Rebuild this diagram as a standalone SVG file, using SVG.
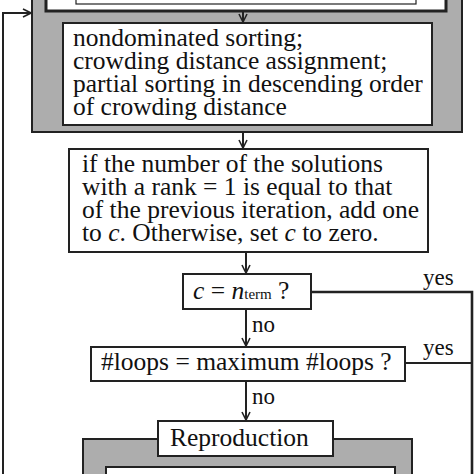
<svg xmlns="http://www.w3.org/2000/svg" width="474" height="474" viewBox="0 0 474 474">
<style>
text{font-family:'Liberation Serif','Times New Roman',Tinos,'DejaVu Serif',serif;fill:#111}
.t{font-size:25.5px}
.lbl{font-size:23px}
.g{fill:#adadad;stroke:#222;stroke-width:2}
.w{fill:#fff;stroke:#222;stroke-width:2}
.ln{fill:none;stroke:#222;stroke-width:2}
.thk{fill:none;stroke:#222;stroke-width:2.6}
</style>
<defs>
<marker id="ah" viewBox="0 0 10 10" refX="9" refY="5" markerWidth="10" markerHeight="10" markerUnits="userSpaceOnUse" orient="auto">
<path d="M1,1 L9,5 L1,9" fill="none" stroke="#222" stroke-width="1.6"/>
</marker>
</defs>
<rect width="474" height="474" fill="#fff"/>
<g id="evaluation-block">
<rect class="g" x="32" y="-20" width="430" height="152"/>
<rect x="46" y="-20" width="400" height="31" fill="#fff" stroke="#222" stroke-width="3"/>
<rect x="76" y="-20" width="340" height="24" fill="#fff" stroke="#222" stroke-width="1.2"/>
</g>
<g id="sorting">
<rect class="w" x="63" y="23" width="369" height="102"/>
<text class="t" x="73" y="46" font-family="Liberation Serif, serif">nondominated sorting;</text>
<text class="t" x="73" y="69" font-family="Liberation Serif, serif">crowding distance assignment;</text>
<text class="t" x="73" y="92" font-family="Liberation Serif, serif">partial sorting in descending order</text>
<text class="t" x="73" y="115" font-family="Liberation Serif, serif">of crowding distance</text>
</g>
<g id="counter">
<rect class="w" x="69" y="149" width="359" height="103"/>
<text class="t" x="82" y="172">if the number of the solutions</text>
<text class="t" x="82" y="195">with a rank = 1 is equal to that</text>
<text class="t" x="82" y="218">of the previous iteration, add one</text>
<text class="t" x="82" y="241">to <tspan font-style="italic">c</tspan>. Otherwise, set <tspan font-style="italic">c</tspan> to zero.</text>
</g>
<g id="decision-c">
<rect class="w" x="183" y="274" width="128" height="35"/>
<text class="t" x="193" y="299"><tspan font-style="italic">c</tspan> = <tspan font-style="italic">n</tspan><tspan font-size="15">term</tspan> ?</text>
</g>
<g id="decision-loops">
<rect class="w" x="91" y="347" width="314" height="34"/>
<text class="t" x="101" y="370">#loops = maximum #loops ?</text>
</g>
<g id="reproduction-block">
<rect class="g" x="83" y="439" width="329" height="50"/>
<rect class="w" x="106" y="467" width="289" height="20"/>
</g>
<g id="reproduction">
<rect class="w" x="158" y="421" width="175" height="35"/>
<text class="t" x="170" y="446" font-size="27">Reproduction</text>
</g>
<g id="connectors">
<line class="ln" x1="243" y1="11" x2="243" y2="22" marker-end="url(#ah)"/>
<line class="ln" x1="243" y1="132" x2="243" y2="148" marker-end="url(#ah)"/>
<line class="ln" x1="246" y1="252" x2="246" y2="273" marker-end="url(#ah)"/>
<line class="ln" x1="246" y1="309" x2="246" y2="346" marker-end="url(#ah)"/>
<line class="ln" x1="246" y1="381" x2="246" y2="420" marker-end="url(#ah)"/>
<polyline class="thk" points="311,292 472,292 472,480"/>
<line class="ln" x1="405" y1="363" x2="472" y2="363"/>
<polyline class="ln" points="3,480 3,13 31,13" marker-end="url(#ah)"/>
<text class="lbl" x="423" y="285">yes</text>
<text class="lbl" x="423" y="355">yes</text>
<text class="lbl" x="252" y="332">no</text>
<text class="lbl" x="252" y="404">no</text>
</g>
</svg>
